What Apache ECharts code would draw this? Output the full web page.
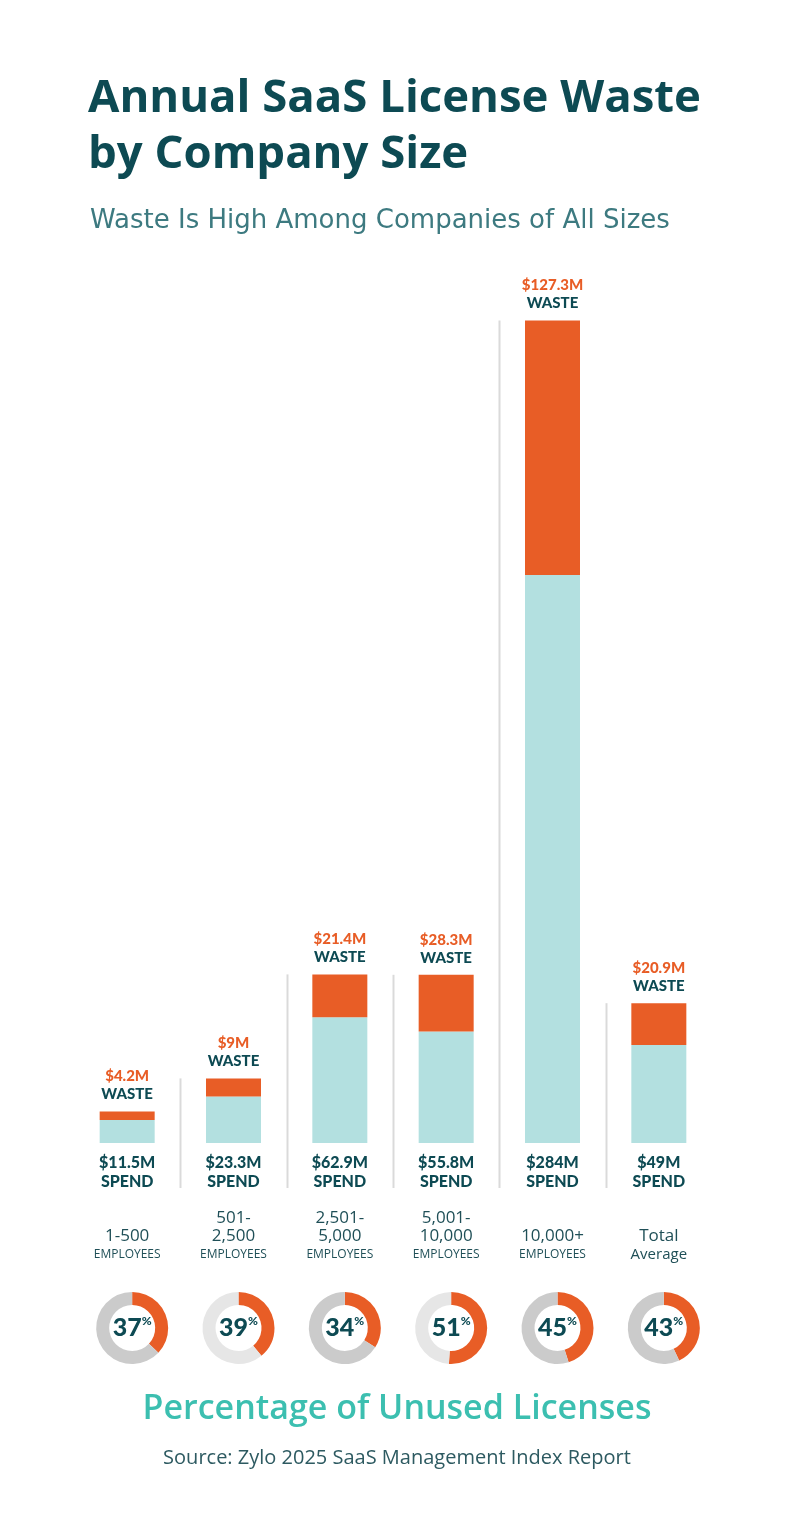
<!DOCTYPE html>
<html><head><meta charset="utf-8">
<script src="https://cdn.jsdelivr.net/npm/echarts@6/dist/echarts.min.js"></script>
<style>html,body{margin:0;padding:0;background:#fff}#c{width:794px;height:1536px}</style>
</head><body><div id="c"></div>
<script>
const rangeTop = ['', '501-', '2,501-', '5,001-', '', ''];
const rangeMain = ['1-500', '2,500', '5,000', '10,000', '10,000+', 'Total'];
const rangeSub = ['EMPLOYEES', 'EMPLOYEES', 'EMPLOYEES', 'EMPLOYEES', 'EMPLOYEES', 'Average'];
const spend = [11.5, 23.3, 62.9, 55.8, 284, 49];
const waste = [4.2, 9, 21.4, 28.3, 127.3, 20.9];
const spendLabels = ['$11.5M', '$23.3M', '$62.9M', '$55.8M', '$284M', '$49M'];
const wasteLabels = ['$4.2M', '$9M', '$21.4M', '$28.3M', '$127.3M', '$20.9M'];
const unusedPct = [37, 39, 34, 51, 45, 43];
const ringGray = ['#cbcbcb', '#e6e6e6', '#cbcbcb', '#e6e6e6', '#cbcbcb', '#cbcbcb'];

const W = 794, H = 1536;
const gridLeft = 74, gridRight = 82, gridTop = 243, gridBottom = 393;
const band = (W - gridLeft - gridRight) / rangeMain.length;
const DARK = '#0d4a53', ORANGE = '#e85d26', TEAL = '#b3e0e0';
const FONT = 'Lato';
const HFONT = 'Open Sans';

const categories = rangeMain.map((m, i) => i);
const totals = spend.map((s, i) => s + waste[i]);

const pies = unusedPct.map((p, i) => ({
  type: 'pie',
  silent: true,
  radius: [23, 36],
  center: [gridLeft + band * (i + 0.5) + 5, 1328],
  startAngle: 90,
  clockwise: true,
  labelLine: { show: false },
  data: [
    { value: p, itemStyle: { color: ORANGE },
      label: { show: true, position: 'center',
        formatter: '{n|' + p + '}{s|%}',
        rich: { n: { fontFamily: FONT, fontWeight: 900, fontSize: 25, color: DARK },
                s: { fontFamily: FONT, fontWeight: 900, fontSize: 12, color: DARK, verticalAlign: 'top', padding: [0, 0, 10, 0] } } } },
    { value: 100 - p, itemStyle: { color: ringGray[i] }, label: { show: false } }
  ]
}));

const chart = echarts.init(document.getElementById('c'), null, { renderer: 'canvas' });
chart.setOption({
  backgroundColor: '#ffffff',
  animation: false,
  title: [
    { text: 'Annual SaaS License Waste\nby Company Size', left: 83, top: 66,
      textStyle: { fontFamily: HFONT, fontWeight: 'bold', fontSize: 45.5, lineHeight: 56, color: DARK } },
    { text: 'Waste Is High Among Companies of All Sizes', left: 85, top: 203,
      textStyle: { fontFamily: 'DejaVu Sans', fontWeight: 'normal', fontSize: 26, color: '#3d7a80' } },
    { text: 'Percentage of Unused Licenses', left: 'center', top: 1387,
      textStyle: { fontFamily: HFONT, fontWeight: 600, fontSize: 34, color: '#3cbfb0' } },
    { text: 'Source: Zylo 2025 SaaS Management Index Report', left: 'center', top: 1443,
      textStyle: { fontFamily: HFONT, fontWeight: 'normal', fontSize: 20, color: '#2d5a61' } }
  ],
  grid: { left: gridLeft, right: gridRight, top: gridTop, bottom: gridBottom },
  xAxis: {
    type: 'category', data: categories,
    axisLine: { show: false }, axisTick: { show: false }, splitLine: { show: false },
    axisLabel: {
      interval: 0, margin: 122, verticalAlign: 'bottom', align: 'center',
      formatter: (v, i) => {
        const top = rangeTop[i] ? '{m|' + rangeTop[i] + '}\n' : '';
        const subStyle = rangeSub[i] === 'EMPLOYEES' ? 'e' : 'a';
        return top + '{m|' + rangeMain[i] + '}\n{' + subStyle + '|' + rangeSub[i] + '}';
      },
      rich: {
        m: { fontFamily: HFONT, fontSize: 17, lineHeight: 18, color: '#1f4f57' },
        e: { fontFamily: HFONT, fontSize: 12, lineHeight: 20, color: '#1f4f57' },
        a: { fontFamily: HFONT, fontSize: 15, lineHeight: 20, color: '#1f4f57' }
      }
    }
  },
  yAxis: { type: 'value', min: 0, max: 450, show: false, splitLine: { show: false } },
  series: [
    {
      type: 'bar', stack: 'total', barWidth: 55, data: spend,
      itemStyle: { color: TEAL },
      label: { show: true, position: 'bottom', distance: 10,
        formatter: p => '{v|' + spendLabels[p.dataIndex] + '}\n{v|SPEND}',
        rich: { v: { fontFamily: FONT, fontWeight: 900, fontSize: 16, lineHeight: 19, color: DARK } } }
    },
    {
      type: 'bar', stack: 'total', barWidth: 55, data: waste,
      itemStyle: { color: ORANGE },
      label: { show: true, position: 'top', distance: 8,
        formatter: p => '{o|' + wasteLabels[p.dataIndex] + '}\n{w|WASTE}',
        rich: { o: { fontFamily: FONT, fontWeight: 900, fontSize: 15, lineHeight: 18, color: ORANGE },
                w: { fontFamily: FONT, fontWeight: 900, fontSize: 15, lineHeight: 18, color: DARK } } }
    },
    {
      type: 'custom', silent: true,
      data: totals.map((t, i) => [i, t]).slice(1),
      renderItem: (params, api) => {
        const i = api.value(0);
        const top = api.coord([i, api.value(1)]);
        const base = api.coord([i, 0]);
        const bw = api.size([1, 0])[0];
        const x = Math.round(top[0] - bw / 2) + 0.5;
        return { type: 'line', shape: { x1: x, y1: top[1], x2: x, y2: base[1] + 45 },
                 style: { stroke: '#dadada', lineWidth: 2 } };
      }
    },
    ...pies
  ]
});
</script></body></html>
